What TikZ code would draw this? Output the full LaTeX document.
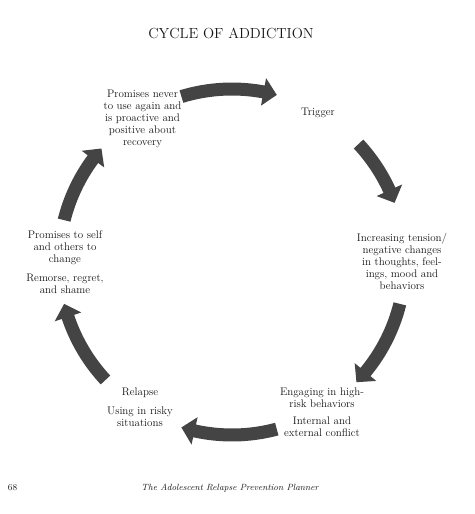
\documentclass[tikz,border=0pt]{standalone}
\usepackage{tikz}
\usetikzlibrary{calc}

\definecolor{arrowgray}{RGB}{68,68,68}
\definecolor{inkgray}{RGB}{22,22,22}

\tikzset{
  stage/.style={align=center, inner sep=0pt, text=inkgray,
    font=\fontsize{11}{12}\selectfont},
  cyclefill/.style={fill=arrowgray},
}

\begin{document}
\begin{tikzpicture}[x=1pt, y=1pt]
    \useasboundingbox[fill=white] (0,0) rectangle (474,-514);
    \node[text=inkgray, font=\fontsize{14.6}{16}\selectfont] (title) at (231,-33) {CYCLE OF ADDICTION};
    \coordinate (hub) at (232,-262);
    % fat arrows round the cycle, tail angle / tip angle
    \def\Rmid{173} \def\Rout{179.5} \def\Rin{166.5}
    \def\Hout{187} \def\Hin{159}
    \foreach \tail/\tip in {107/75, 43/20, -14/-44, -75/-107, 223/194, 166/139} {
        \pgfmathsetmacro\hb{\tip+4.5}
        \fill[cyclefill] ($(hub)+(\tail:\Rout)$) arc[start angle=\tail, end angle=\hb, radius=\Rout]
            -- ($(hub)+(\hb:\Hout)$) -- ($(hub)+(\tip:\Rmid)$) -- ($(hub)+(\hb:\Hin)$)
            -- ($(hub)+(\hb:\Rin)$) arc[start angle=\hb, end angle=\tail, radius=\Rin] -- cycle;
    }
    \node[stage] (promise) at (142.5,-119) {Promises never\\to use again and\\is proactive and\\positive about\\recovery};
    \node[stage] (trigger) at (318,-113) {Trigger};
    \node[stage] (tension) at (402,-261) {Increasing tension/\\negative changes\\in thoughts, feel-\\ings, mood and\\behaviors};
    \node[stage] (engaging) at (322,-397.5) {Engaging in high-\\risk behaviors};
    \node[stage] (conflict) at (322,-426.5) {Internal and\\external conflict};
    \node[stage] (relapse) at (140,-393) {Relapse};
    \node[stage] (risky) at (140,-416.5) {Using in risky\\situations};
    \node[stage] (selfpromise) at (65,-248) {Promises to self\\and others to\\change};
    \node[stage] (remorse) at (65,-283.5) {Remorse, regret,\\and shame};
    % page foot
    \node[text=inkgray, font=\fontsize{9}{10}\selectfont] (page) at (12.5,-488) {68};
    \node[text=inkgray, font=\fontsize{9}{10}\selectfont\itshape] (book) at (230,-488) {The Adolescent Relapse Prevention Planner};
\end{tikzpicture}
\end{document}
